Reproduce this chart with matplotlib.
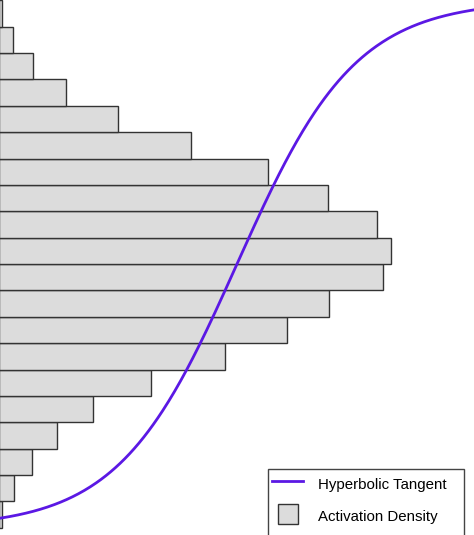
import numpy as np
import matplotlib
matplotlib.use("Agg")
import matplotlib.pyplot as plt
from matplotlib.lines import Line2D

plt.rcParams["font.family"] = ["Liberation Sans", "DejaVu Sans"]

# histogram of activations: 20 bins over [-1, 1], listed bottom to top
bin_edges = np.linspace(-1.0, 1.0, 21)
density = [0.009, 0.044, 0.098, 0.172, 0.278, 0.450, 0.669, 0.852, 0.976, 1.136,
           1.160, 1.118, 0.973, 0.796, 0.568, 0.352, 0.198, 0.101, 0.041, 0.009]

# tanh curve domain
x_min, x_max = -2.0, 2.0

curve_color = "#5b18e4"
bar_face = "#dcdcdc"
bar_edge = "#333333"

y_lim = (-1.0277, 1.0015)

fig = plt.figure(figsize=(4.74, 5.35), dpi=100)
ax = fig.add_axes([0, 0, 1, 1])

centers = (bin_edges[:-1] + bin_edges[1:]) / 2
heights = np.diff(bin_edges)
ax.barh(centers, density, height=heights, left=0, color=bar_face,
        edgecolor=bar_edge, linewidth=1.0)
ax.set_xlim(0.004, 1.406)
ax.set_ylim(*y_lim)

ax2 = ax.twiny()
xs = np.linspace(x_min, x_max, 400)
ax2.plot(xs, np.tanh(xs), color=curve_color, lw=2.0)
ax2.set_xlim(x_min, x_max)
ax2.set_ylim(*y_lim)

for a in (ax, ax2):
    a.set_axis_off()

handles = [
    Line2D([], [], color=curve_color, lw=2.0),
    Line2D([], [], marker="s", markersize=14, markerfacecolor=bar_face,
           markeredgecolor=bar_edge, markeredgewidth=1.0, linestyle="none"),
    Line2D([], [], alpha=0),  # blank row, legend runs past the bottom edge
]
labels = ["Hyperbolic Tangent", "Activation Density", " "]
leg = ax2.legend(handles, labels, loc="upper left", mode="expand",
                 bbox_to_anchor=(267.7 / 474, 1 - 469 / 535, 196.3 / 474, 0.0),
                 bbox_transform=fig.transFigure, borderaxespad=0,
                 fontsize=10.8, fancybox=False, framealpha=1,
                 edgecolor="#444444", handlelength=2.1, handletextpad=0.98,
                 handleheight=1.85, borderpad=0.27, labelspacing=0.73)
leg.get_frame().set_linewidth(1.0)

fig.savefig("out.png", dpi=100)
